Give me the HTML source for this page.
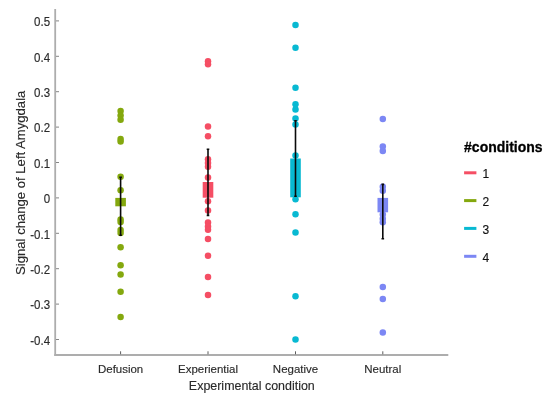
<!DOCTYPE html>
<html><head><meta charset="utf-8"><title>chart</title>
<style>
html,body{margin:0;padding:0;background:#fff;}
svg{display:block;}
text{font-family:"Liberation Sans",Arial,sans-serif;fill:#2a2a2a;stroke:#2a2a2a;stroke-width:0.15px;}
</style></head><body>
<svg width="550" height="402" viewBox="0 0 550 402">
<rect width="550" height="402" fill="#fff"/>
<g stroke="#adadad" stroke-width="1.8" fill="none"><line x1="55.2" y1="9" x2="55.2" y2="355.9"/><line x1="54.3" y1="355" x2="448.3" y2="355"/></g>
<g stroke="#5e5e5e" stroke-width="1"><line x1="56" y1="339.5" x2="59" y2="339.5" stroke="#858585"/><line x1="56" y1="304.1" x2="59" y2="304.1" stroke="#858585"/><line x1="56" y1="268.7" x2="59" y2="268.7" stroke="#858585"/><line x1="56" y1="233.3" x2="59" y2="233.3" stroke="#858585"/><line x1="56" y1="197.9" x2="59" y2="197.9" stroke="#858585"/><line x1="56" y1="162.5" x2="59" y2="162.5" stroke="#858585"/><line x1="56" y1="127.1" x2="59" y2="127.1" stroke="#858585"/><line x1="56" y1="91.7" x2="59" y2="91.7" stroke="#858585"/><line x1="56" y1="56.3" x2="59" y2="56.3" stroke="#858585"/><line x1="56" y1="20.9" x2="59" y2="20.9" stroke="#858585"/><line x1="120.6" y1="354.3" x2="120.6" y2="351.3"/><line x1="208.0" y1="354.3" x2="208.0" y2="351.3"/><line x1="295.5" y1="354.3" x2="295.5" y2="351.3"/><line x1="382.8" y1="354.3" x2="382.8" y2="351.3"/></g>
<g font-size="12" text-anchor="end"><text transform="translate(50.1,344.7) scale(0.958,1)">-0.4</text><text transform="translate(50.1,309.3) scale(0.958,1)">-0.3</text><text transform="translate(50.1,273.9) scale(0.958,1)">-0.2</text><text transform="translate(50.1,238.5) scale(0.958,1)">-0.1</text><text transform="translate(50.1,203.1) scale(0.958,1)">0</text><text transform="translate(50.1,167.7) scale(0.958,1)">0.1</text><text transform="translate(50.1,132.3) scale(0.958,1)">0.2</text><text transform="translate(50.1,96.9) scale(0.958,1)">0.3</text><text transform="translate(50.1,61.5) scale(0.958,1)">0.4</text><text transform="translate(50.1,26.1) scale(0.958,1)">0.5</text></g>
<g font-size="12" text-anchor="middle"><text transform="translate(120.6,372.7) scale(0.958,0.98)">Defusion</text><text transform="translate(208.0,372.7) scale(0.958,0.98)">Experiential</text><text transform="translate(295.5,372.7) scale(0.958,0.98)">Negative</text><text transform="translate(382.8,372.7) scale(0.958,0.98)">Neutral</text></g>
<text transform="translate(251.8,390.1) scale(0.958,1)" font-size="13" text-anchor="middle">Experimental condition</text>
<text transform="translate(24.5,182.8) scale(1,1.008) rotate(-90)" font-size="13" text-anchor="middle">Signal change of Left Amygdala</text>
<g fill="#84a80e"><circle cx="120.6" cy="111.1" r="3.25"/><circle cx="120.6" cy="115.5" r="3.25"/><circle cx="120.6" cy="119.8" r="3.25"/><circle cx="120.6" cy="139.1" r="3.25"/><circle cx="120.6" cy="141.6" r="3.25"/><circle cx="120.6" cy="176.7" r="3.25"/><circle cx="120.6" cy="190.2" r="3.25"/><circle cx="120.6" cy="219.5" r="3.25"/><circle cx="120.6" cy="222.0" r="3.25"/><circle cx="120.6" cy="229.9" r="3.25"/><circle cx="120.6" cy="233.0" r="3.25"/><circle cx="120.6" cy="247.3" r="3.25"/><circle cx="120.6" cy="265.2" r="3.25"/><circle cx="120.6" cy="274.6" r="3.25"/><circle cx="120.6" cy="291.8" r="3.25"/><circle cx="120.6" cy="316.9" r="3.25"/><rect x="115.3" y="197.9" width="10.6" height="8.4"/></g>
<path d="M120.6 176.8V235.7M119.3 177.2h2.6M119.3 235.3h2.6" stroke="#0a0a0a" stroke-width="1.6" fill="none"/>
<g fill="#f54e64"><circle cx="208.0" cy="61.2" r="3.25"/><circle cx="208.0" cy="64.2" r="3.25"/><circle cx="208.0" cy="126.5" r="3.25"/><circle cx="208.0" cy="136.3" r="3.25"/><circle cx="208.0" cy="159.2" r="3.25"/><circle cx="208.0" cy="163.0" r="3.25"/><circle cx="208.0" cy="166.8" r="3.25"/><circle cx="208.0" cy="177.4" r="3.25"/><circle cx="208.0" cy="201.2" r="3.25"/><circle cx="208.0" cy="210.6" r="3.25"/><circle cx="208.0" cy="222.6" r="3.25"/><circle cx="208.0" cy="226.4" r="3.25"/><circle cx="208.0" cy="229.8" r="3.25"/><circle cx="208.0" cy="238.9" r="3.25"/><circle cx="208.0" cy="255.8" r="3.25"/><circle cx="208.0" cy="276.9" r="3.25"/><circle cx="208.0" cy="295.1" r="3.25"/><rect x="202.7" y="182.0" width="10.6" height="15.7"/></g>
<path d="M208.0 148.8V215.8M206.7 149.2h2.6M206.7 215.4h2.6" stroke="#0a0a0a" stroke-width="1.6" fill="none"/>
<g fill="#08b9d2"><circle cx="295.5" cy="25.1" r="3.25"/><circle cx="295.5" cy="47.8" r="3.25"/><circle cx="295.5" cy="87.8" r="3.25"/><circle cx="295.5" cy="104.2" r="3.25"/><circle cx="295.5" cy="109.6" r="3.25"/><circle cx="295.5" cy="118.4" r="3.25"/><circle cx="295.5" cy="124.4" r="3.25"/><circle cx="295.5" cy="155.6" r="3.25"/><circle cx="295.5" cy="199.3" r="3.25"/><circle cx="295.5" cy="214.2" r="3.25"/><circle cx="295.5" cy="232.5" r="3.25"/><circle cx="295.5" cy="296.3" r="3.25"/><circle cx="295.5" cy="339.6" r="3.25"/><rect x="290.2" y="158.5" width="10.6" height="38.8"/></g>
<path d="M295.5 120.4V196.6M294.2 120.8h2.6M294.2 196.2h2.6" stroke="#0a0a0a" stroke-width="1.6" fill="none"/>
<g fill="#7c87f4"><circle cx="382.8" cy="119.0" r="3.25"/><circle cx="382.8" cy="146.5" r="3.25"/><circle cx="382.8" cy="150.9" r="3.25"/><circle cx="382.8" cy="186.7" r="3.25"/><circle cx="382.8" cy="190.7" r="3.25"/><circle cx="382.8" cy="214.5" r="3.25"/><circle cx="382.8" cy="218.8" r="3.25"/><circle cx="382.8" cy="222.2" r="3.25"/><circle cx="382.8" cy="286.9" r="3.25"/><circle cx="382.8" cy="298.9" r="3.25"/><circle cx="382.8" cy="332.4" r="3.25"/><rect x="377.5" y="197.9" width="10.6" height="14.4"/></g>
<path d="M382.8 184.0V239.2M381.5 184.4h2.6M381.5 238.8h2.6" stroke="#0a0a0a" stroke-width="1.6" fill="none"/>
<text transform="translate(464.1,151.6) scale(0.958,1)" font-size="14.6" font-weight="bold" style="fill:#000;stroke:#000;stroke-width:0.3px">#conditions</text>
<line x1="464.1" y1="172.8" x2="476.4" y2="172.8" stroke="#f54e64" stroke-width="3"/><text x="482.6" y="178.2" font-size="12" style="fill:#111;stroke:#111">1</text>
<line x1="464.1" y1="200.6" x2="476.4" y2="200.6" stroke="#84a80e" stroke-width="3"/><text x="482.6" y="206.2" font-size="12" style="fill:#111;stroke:#111">2</text>
<line x1="464.1" y1="228.4" x2="476.4" y2="228.4" stroke="#08b9d2" stroke-width="3"/><text x="482.6" y="234.2" font-size="12" style="fill:#111;stroke:#111">3</text>
<line x1="464.1" y1="256.3" x2="476.4" y2="256.3" stroke="#7c87f4" stroke-width="3"/><text x="482.6" y="262.2" font-size="12" style="fill:#111;stroke:#111">4</text>
</svg></body></html>
